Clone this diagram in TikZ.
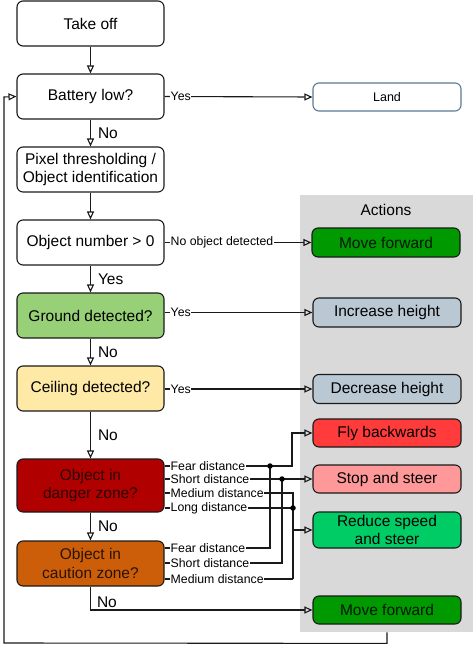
\documentclass[tikz,border=0pt]{standalone}
\usepackage{fontspec}
\setmainfont{Liberation Sans}
\usetikzlibrary{arrows.meta,calc}
\definecolor{lnc}{HTML}{1A1A1A}
\definecolor{panelc}{HTML}{D9D9D9}
\definecolor{groundc}{HTML}{97D077}
\definecolor{ceilc}{HTML}{FFE9A6}
\definecolor{dangerc}{HTML}{B00000}
\definecolor{cautionc}{HTML}{CC5E0A}
\definecolor{mfc}{HTML}{009900}
\definecolor{hc}{HTML}{BAC8D3}
\definecolor{flyc}{HTML}{FF3B3B}
\definecolor{stopc}{HTML}{FF9999}
\definecolor{redc}{HTML}{00CC66}
\definecolor{landc}{HTML}{5A7A95}
\begin{document}
\begin{tikzpicture}[x=1pt,y=-1pt,
  box/.style={draw=lnc, rounded corners=6pt, minimum width=147pt, minimum height=45pt,
    align=center, font=\fontsize{15.5}{18.5}\selectfont, line width=1.1pt, inner sep=1pt},
  act/.style={box, minimum width=148pt, minimum height=29pt},
  lbl/.style={font=\fontsize{12.3}{13}\selectfont, fill=white, inner sep=0.6pt},
  nolbl/.style={font=\fontsize{15.5}{17}\selectfont, inner sep=1pt},
  arr/.style={draw=lnc, line width=1.1pt, -{Triangle[open,length=8pt,width=7pt]}},
  ln/.style={draw=lnc, line width=1.1pt},
  dot/.style={circle, fill=black, inner sep=0pt, minimum size=5.5pt}
]
\useasboundingbox (0,0) rectangle (474,645);
% panel
\node[fill=panelc, minimum width=173pt, minimum height=437pt, inner sep=0pt, anchor=north west] (panel) at (300,195) {};
\node[font=\fontsize{15.5}{17}\selectfont] (acttitle) at (386,210) {Actions};

% left column
\node[box] (takeoff) at (90.5,23.5) {Take off};
\node[box] (battery) at (90.5,96.5) {Battery low?};
\node[box] (pixel) at (90.5,169.5) {Pixel thresholding /\\Object identification};
\node[box] (objnum) at (90.5,242.5) {Object number > 0};
\node[box, fill=groundc] (ground) at (90.5,315.5) {Ground detected?};
\node[box, fill=ceilc] (ceiling) at (90.5,388.5) {Ceiling detected?};
\node[box, fill=dangerc, minimum height=53pt, text=black!75!dangerc] (danger) at (90.5,485.5) {Object in\\danger zone?};
\node[box, fill=cautionc, text=black!80!cautionc] (caution) at (90.5,563.5) {Object in\\caution zone?};

% actions
\node[act, draw=landc, minimum height=28pt, font=\fontsize{12.5}{14}\selectfont] (land) at (387,97) {Land};
\node[act, fill=mfc, text=black!85!mfc] (mf1) at (386,242.5) {Move forward};
\node[act, fill=hc] (inc) at (387,312.5) {Increase height};
\node[act, fill=hc] (dec) at (387,389) {Decrease height};
\node[act, fill=flyc, minimum height=28pt] (fly) at (387,433) {Fly backwards};
\node[act, fill=stopc, minimum height=28pt] (stop) at (387,479) {Stop and steer};
\node[act, fill=redc, minimum height=36pt] (reduce) at (387,530) {Reduce speed\\and steer};
\node[act, fill=mfc, text=black!85!mfc, minimum height=28pt] (mf2) at (387,610) {Move forward};

% vertical flow
\draw[arr] (takeoff) -- (battery);
\draw[arr] (battery) -- node[nolbl, right, xshift=6pt] {No} (pixel);
\draw[arr] (pixel) -- (objnum);
\draw[arr] (objnum) -- node[nolbl, right, xshift=6pt] {Yes} (ground);
\draw[arr] (ground) -- node[nolbl, right, xshift=6pt] {No} (ceiling);
\draw[arr] (ceiling) -- node[nolbl, right, xshift=6pt] {No} (danger);
\draw[arr] (danger) -- node[nolbl, right, xshift=6pt] {No} (caution);
\coordinate (cno) at (caution.south |- mf2.west);
\draw[arr] (caution.south) -- (cno) node[nolbl, above right, xshift=5pt, yshift=1pt] {No} -- (mf2.west);

% loop back
\coordinate (lp1) at ($(mf2.south |- panel.south)+(0,11)$);
\coordinate (lp2) at (4,643);
\coordinate (lp3) at (4,97);
\draw[arr] (mf2.south |- panel.south) -- (lp1) -- (lp2) -- (lp3) -- (battery.west);

% horizontal yes arrows
\draw[arr] (battery.east) -- node[lbl, at start, anchor=west, xshift=5pt] {Yes} (land.west);
\draw[arr] (objnum.east) -- node[lbl, at start, anchor=west, xshift=5pt] {No object detected} (mf1.west);
\draw[arr] (ground.east |- inc.west) -- node[lbl, at start, anchor=west, xshift=5pt] {Yes} (inc.west);
\draw[arr] (ceiling.east |- dec.west) -- node[lbl, at start, anchor=west, xshift=5pt] {Yes} (dec.west);

% danger outputs
\coordinate (dF) at ($(danger.east)+(0,-19.5)$);
\coordinate (dS) at (danger.east |- stop.west);
\coordinate (dM) at ($(danger.east)+(0,7.5)$);
\coordinate (dL) at ($(danger.east)+(0,22.5)$);
\coordinate (cF) at ($(caution.east)+(0,-15.5)$);
\coordinate (cS) at ($(caution.east)+(0,-0.5)$);
\coordinate (cM) at ($(caution.east)+(0,15.5)$);
\coordinate (jF) at (270,0 |- dF);
\coordinate (jS) at (282,0 |- dS);
\coordinate (jL) at (293,0 |- dL);
\coordinate (bF) at (292,0 |- dF);
\coordinate (tM) at (293,0 |- dM);
\coordinate (bM) at (293,0 |- cM);
\coordinate (rM) at (293,0 |- reduce.west);

\draw[arr] (dF) -- node[lbl, at start, anchor=west, xshift=5pt] {Fear distance} (bF) |- (fly.west);
\draw[arr] (dS) -- node[lbl, at start, anchor=west, xshift=5pt] {Short distance} (stop.west);
\draw[ln] (dM) -- node[lbl, at start, anchor=west, xshift=5pt] {Medium distance} (tM) -- (bM);
\draw[ln] (dL) -- node[lbl, at start, anchor=west, xshift=5pt] {Long distance} (jL);
\draw[arr] (rM) -- (reduce.west);
\draw[ln] (cF) -- node[lbl, at start, anchor=west, xshift=5pt] {Fear distance} (jF |- cF) -- (jF);
\draw[ln] (cS) -- node[lbl, at start, anchor=west, xshift=5pt] {Short distance} (jS |- cS) -- (jS);
\draw[ln] (cM) -- node[lbl, at start, anchor=west, xshift=5pt] {Medium distance} (bM);
\node[dot] (dotF) at (jF) {};
\node[dot] (dotS) at (jS) {};
\node[dot] (dotL) at (jL) {};
\end{tikzpicture}
\end{document}
